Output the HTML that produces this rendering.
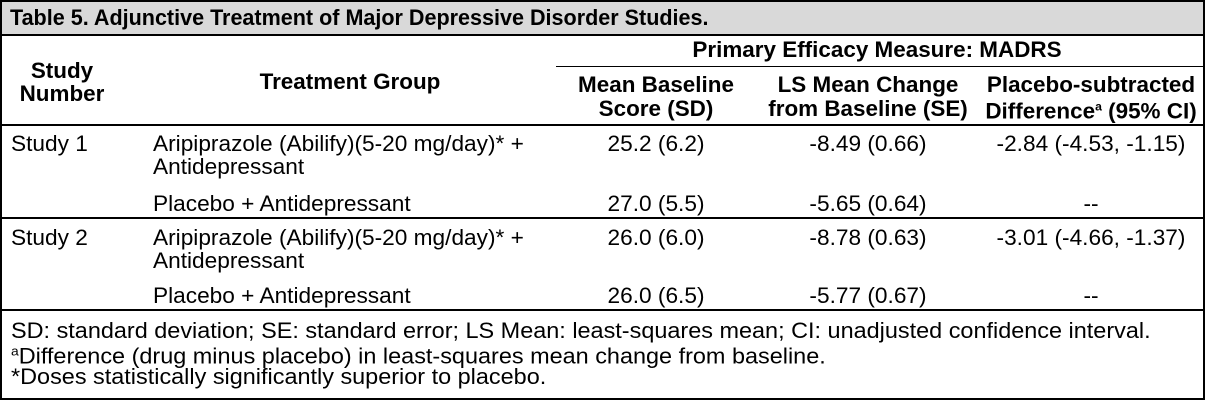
<!DOCTYPE html>
<html><head><meta charset="utf-8"><style>
body{margin:0;width:1205px;height:400px;background:#fff;position:relative;overflow:hidden;font-family:"Liberation Sans",Arial,sans-serif;font-size:22px;color:#000}
.t{position:absolute;white-space:nowrap;line-height:22px;transform:translate(-50%,-50%) scaleX(1.03)}
.l{position:absolute;white-space:nowrap;line-height:22px;transform:translateY(-50%) scaleX(1.03);transform-origin:left center}
.l.f{transform:translateY(-50%) scaleX(1.065)}
.t.b{transform:translate(-50%,-50%) scaleX(1.02)}
.l.b{transform:translateY(-50%) scaleX(0.98)}
.b{font-weight:bold}
.h{position:absolute;background:#000}
</style></head><body>
<div style="position:absolute;left:0;top:0;width:1205px;height:35px;background:#d9d9d9"></div>
<div style="position:absolute;left:0;top:0;width:1201px;height:396px;border:2px solid #000"></div>
<div class="h" style="left:0;top:34px;width:1205px;height:2px"></div>
<div class="h" style="left:556px;top:66px;width:647px;height:1px"></div>
<div class="h" style="left:0;top:124px;width:1205px;height:2px"></div>
<div class="h" style="left:0;top:217px;width:1205px;height:2px"></div>
<div class="h" style="left:0;top:309px;width:1205px;height:2px"></div>

<div class="l b" style="left:10px;top:18px">Table 5. Adjunctive Treatment of Major Depressive Disorder Studies.</div>
<div class="t b" style="left:877px;top:50px">Primary Efficacy Measure: MADRS</div>
<div class="t b" style="left:62px;top:71px">Study</div>
<div class="t b" style="left:62px;top:94px">Number</div>
<div class="t b" style="left:350px;top:82px">Treatment Group</div>
<div class="t b" style="left:656px;top:85px">Mean Baseline</div>
<div class="t b" style="left:656px;top:109px">Score (SD)</div>
<div class="t b" style="left:868px;top:85px">LS Mean Change</div>
<div class="t b" style="left:868px;top:109px">from Baseline (SE)</div>
<div class="t b" style="left:1091px;top:85px">Placebo-subtracted</div>
<div class="t b" style="left:1091px;top:109px">Difference<sup style="font-size:12px">a</sup> (95% CI)</div>

<div class="l" style="left:11px;top:144px">Study 1</div>
<div class="l" style="left:153px;top:144px">Aripiprazole (Abilify)(5-20 mg/day)* +</div>
<div class="l" style="left:153px;top:167px">Antidepressant</div>
<div class="t" style="left:656px;top:144px">25.2 (6.2)</div>
<div class="t" style="left:868px;top:144px">-8.49 (0.66)</div>
<div class="t" style="left:1091px;top:144px">-2.84 (-4.53, -1.15)</div>
<div class="l" style="left:153px;top:204px">Placebo + Antidepressant</div>
<div class="t" style="left:656px;top:204px">27.0 (5.5)</div>
<div class="t" style="left:868px;top:204px">-5.65 (0.64)</div>
<div class="t" style="left:1091px;top:204px">--</div>

<div class="l" style="left:11px;top:238px">Study 2</div>
<div class="l" style="left:153px;top:238px">Aripiprazole (Abilify)(5-20 mg/day)* +</div>
<div class="l" style="left:153px;top:261px">Antidepressant</div>
<div class="t" style="left:656px;top:238px">26.0 (6.0)</div>
<div class="t" style="left:868px;top:238px">-8.78 (0.63)</div>
<div class="t" style="left:1091px;top:238px">-3.01 (-4.66, -1.37)</div>
<div class="l" style="left:153px;top:296px">Placebo + Antidepressant</div>
<div class="t" style="left:656px;top:296px">26.0 (6.5)</div>
<div class="t" style="left:868px;top:296px">-5.77 (0.67)</div>
<div class="t" style="left:1091px;top:296px">--</div>

<div class="l f" style="left:11px;top:331px">SD: standard deviation; SE: standard error; LS Mean: least-squares mean; CI: unadjusted confidence interval.</div>
<div class="l f" style="left:11px;top:354px"><sup style="font-size:13px">a</sup>Difference (drug minus placebo) in least-squares mean change from baseline.</div>
<div class="l f" style="left:11px;top:377px">*Doses statistically significantly superior to placebo.</div>
</body></html>
